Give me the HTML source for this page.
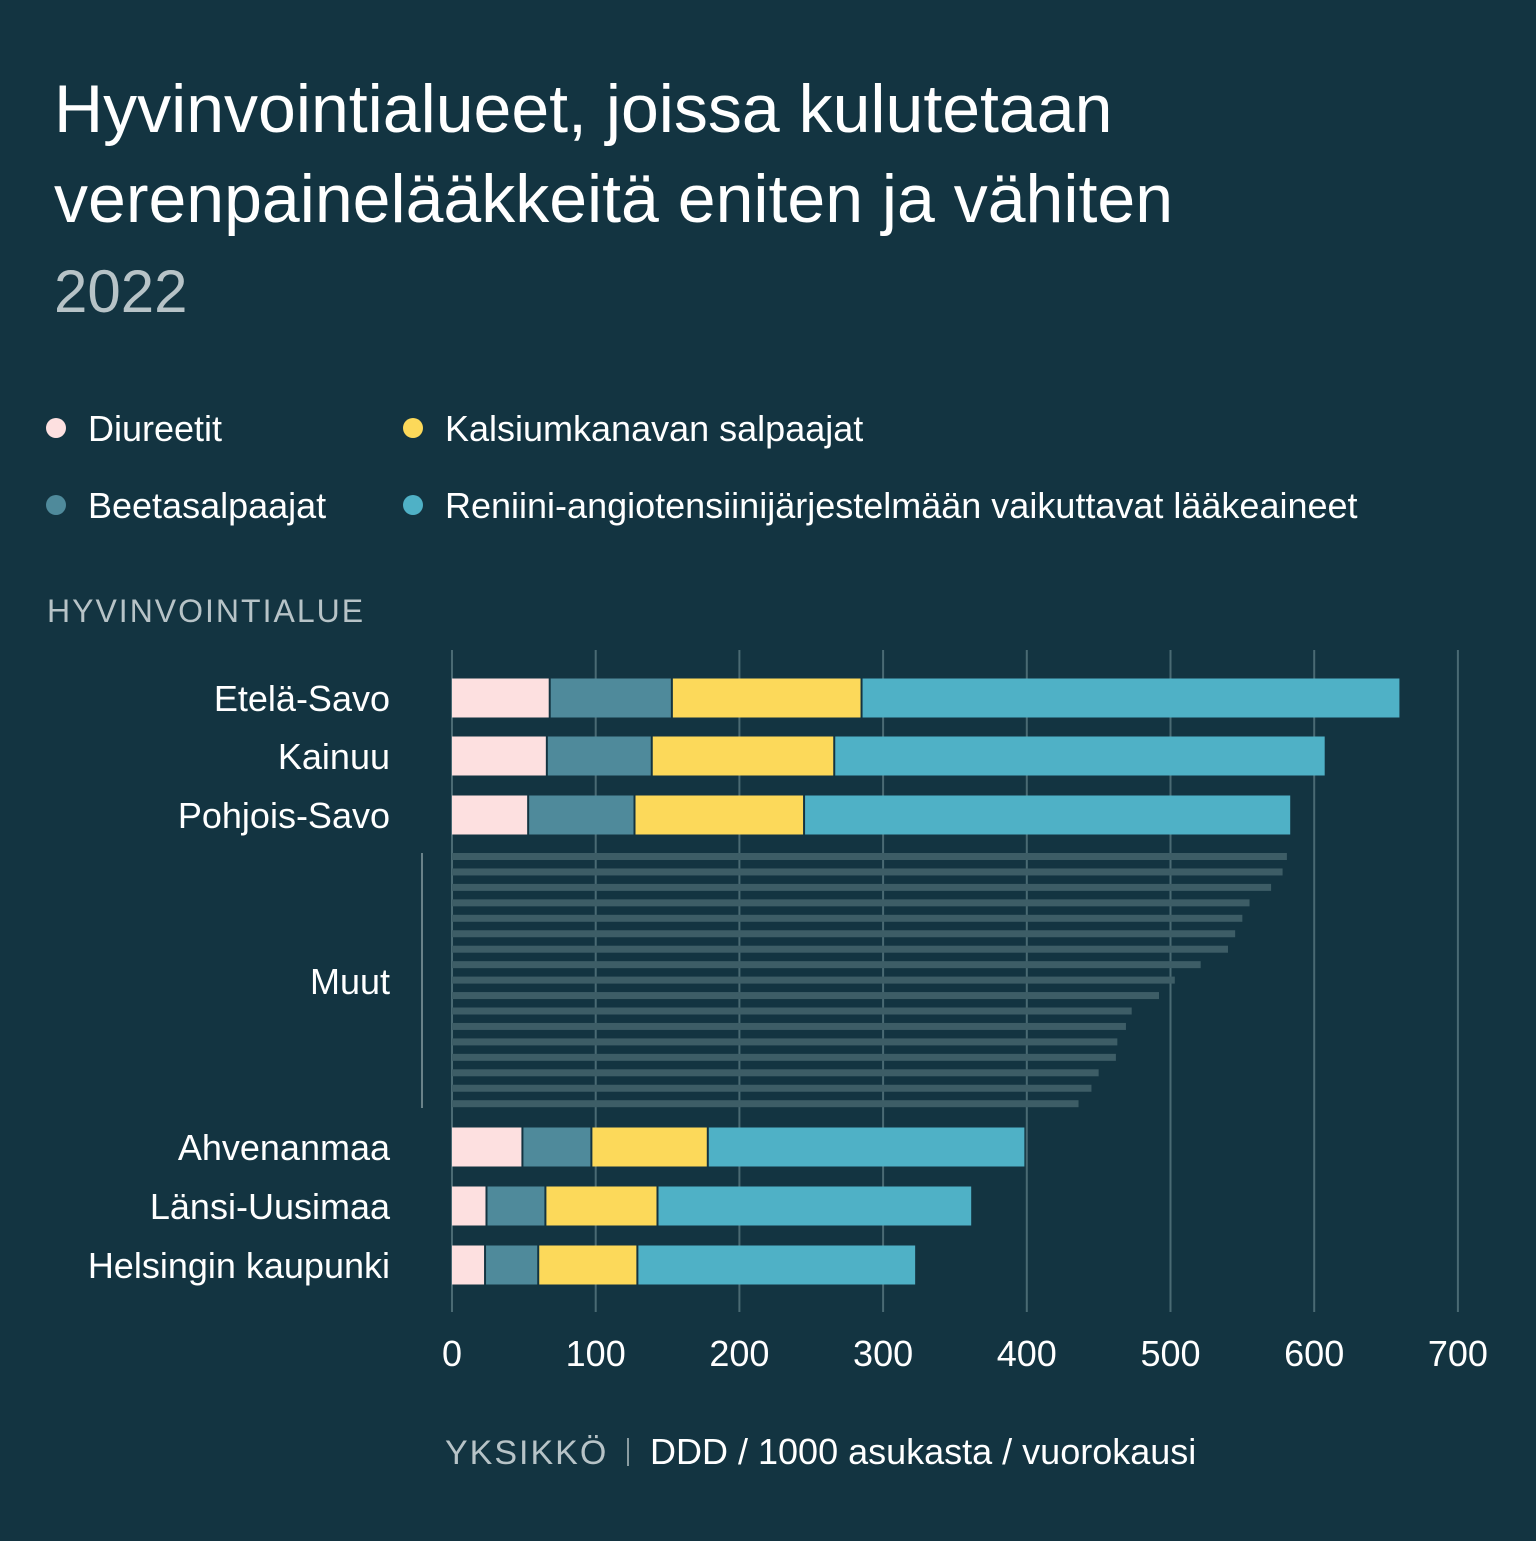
<!DOCTYPE html>
<html><head><meta charset="utf-8">
<style>
html,body{margin:0;padding:0;background:#133441;}
body{width:1536px;height:1536px;overflow:hidden;font-family:"Liberation Sans",sans-serif;}
</style></head>
<body>
<svg id="chart" width="1536" height="1536" xmlns="http://www.w3.org/2000/svg" style="font-family:'Liberation Sans',sans-serif">
<rect width="1536" height="1536" fill="#133441"/>
<text x="54" y="132" font-size="68" fill="#ffffff">Hyvinvointialueet, joissa kulutetaan</text>
<text x="54" y="222" font-size="68" fill="#ffffff">verenpainelääkkeitä eniten ja vähiten</text>
<text x="54" y="312" font-size="60" fill="#b7c3c7">2022</text>
<g font-size="36" fill="#ffffff">
<circle cx="56" cy="428" r="10" fill="#fde0e0"/><text x="88" y="441">Diureetit</text>
<circle cx="413" cy="428" r="10" fill="#fcd95a"/><text x="445" y="441">Kalsiumkanavan salpaajat</text>
<circle cx="56" cy="505" r="10" fill="#4f8a9b"/><text x="88" y="518">Beetasalpaajat</text>
<circle cx="413" cy="505" r="10" fill="#4fb1c6"/><text x="445" y="518">Reniini-angiotensiinijärjestelmään vaikuttavat lääkeaineet</text>
</g>
<text x="47" y="622" font-size="32" fill="#b7c3c7" letter-spacing="2">HYVINVOINTIALUE</text>
<g id="grid"></g>
<g id="others"></g>
<g id="bars"></g>
<line x1="422" y1="853" x2="422" y2="1108" stroke="#6a8289" stroke-width="2"/>
<text x="390" y="994" font-size="36" fill="#ffffff" text-anchor="end">Muut</text>
<g id="xticks" font-size="36" fill="#ffffff" text-anchor="middle"></g>
<text x="445" y="1464" font-size="34" fill="#b7c3c7" letter-spacing="2">YKSIKKÖ</text>
<line x1="628" y1="1438" x2="628" y2="1466" stroke="#8a9ca1" stroke-width="2"/>
<text x="650" y="1464" font-size="36" fill="#ffffff">DDD / 1000 asukasta / vuorokausi</text>
</svg>
<script>
const categories=["Etelä-Savo","Kainuu","Pohjois-Savo","Ahvenanmaa","Länsi-Uusimaa","Helsingin kaupunki"];
const diureetit=[68,66,53,49,24,23];
const beeta=[85,73,74,48,41,37];
const kalsium=[132,127,118,81,78,69];
const reniini=[375,342,339,221,219,194];
const otherTotals=[581,578,570,555,550,545,540,521,503,492,473,469,463,462,450,445,436];
const xTicks=[0,100,200,300,400,500,600,700];
const NS="http://www.w3.org/2000/svg";
const x0=452, pxPer=1.437;
const X=v=>x0+v*pxPer;
const barY=[698,756,815,1147,1206,1265];
const colors=["#fde0e0","#4f8a9b","#fcd95a","#4fb1c6"];
const series=[diureetit,beeta,kalsium,reniini];
const names=["diureetit","beetasalpaajat","kalsiumkanava","reniini"];
function mk(t,a,p){const e=document.createElementNS(NS,t);for(const k in a)e.setAttribute(k,a[k]);p.appendChild(e);return e;}
const grid=document.getElementById('grid'),ticks=document.getElementById('xticks');
xTicks.forEach(t=>{
 const l=mk('line',{x1:X(t),x2:X(t),y1:650,y2:1312,stroke:'#4a6a73','stroke-width':2},grid);
 
 
 const tx=mk('text',{x:X(t),y:1366},ticks);tx.textContent=t;
 
 
});
const others=document.getElementById('others');
otherTotals.forEach((v,i)=>{
 const r=mk('rect',{x:x0,y:853+i*15.45,width:X(v)-x0,height:7,fill:'#3d5d66'},others);
 
 
});
const bars=document.getElementById('bars');
categories.forEach((c,i)=>{
 let cum=0;const y=barY[i]-19.5;
 series.forEach((s,j)=>{
  const a=X(cum),b=X(cum+s[i]);cum+=s[i];
  const r=mk('rect',{x:a+(j?1:0),y:y,width:b-a-(j?1:0)-1,height:39,fill:colors[j]},bars);
  
  
 });
 const t=mk('text',{x:390,y:barY[i]+13,'font-size':36,fill:'#ffffff','text-anchor':'end'},bars);
 t.textContent=c;
 
 
});
</script>
</body></html>
